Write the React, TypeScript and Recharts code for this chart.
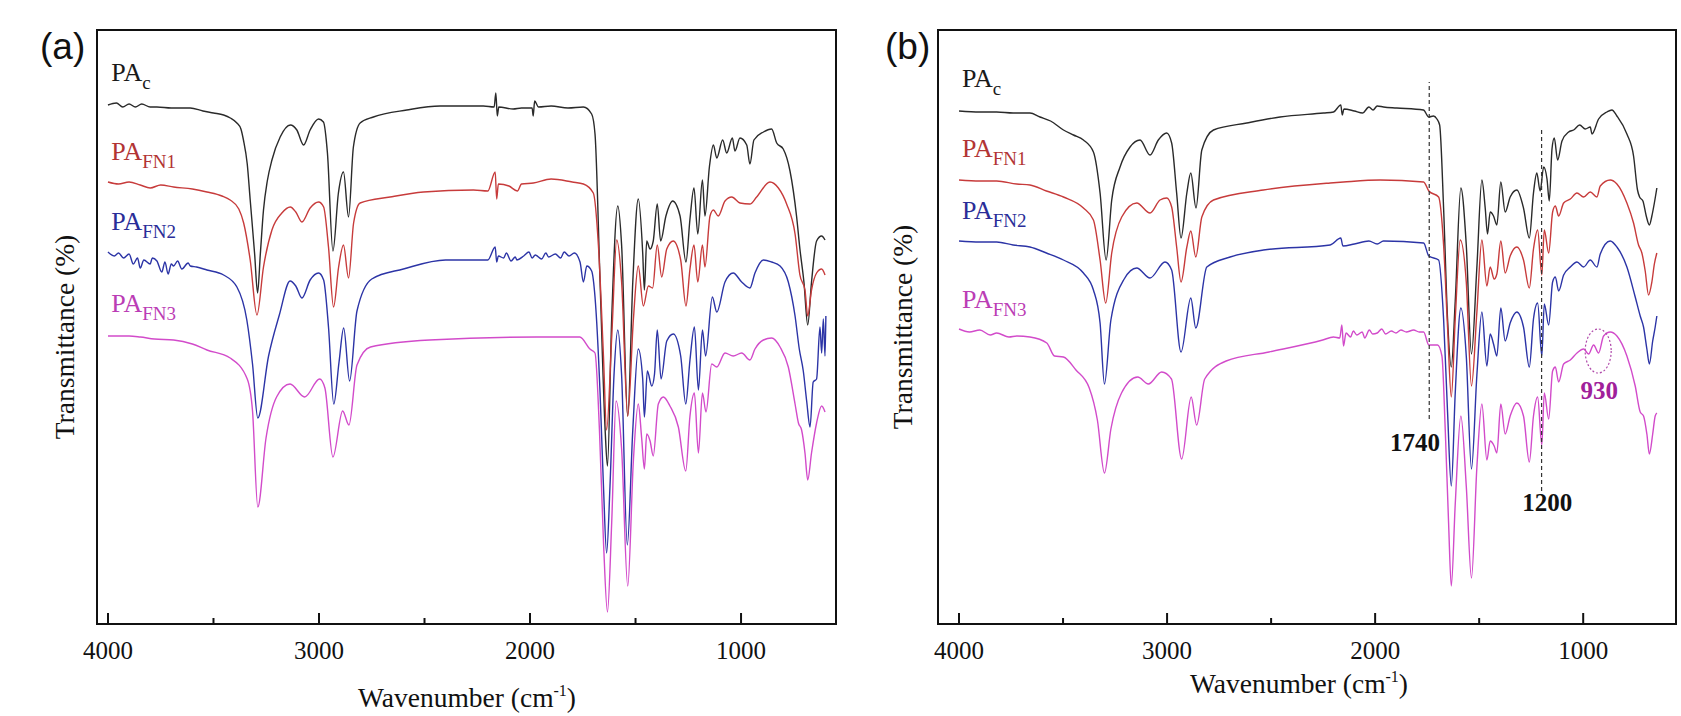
import React from 'react';
import { LineChart, Line, XAxis, YAxis, ReferenceArea, ReferenceLine, ReferenceDot } from 'recharts';

type Pt = [number, number];

// ---------- Panel (a) spectra: [wavenumber cm-1, transmittance (offset a.u.)] ----------
const A_PAC: Pt[] = [[4000,519],[3960,521],[3930,517],[3900,520],[3870,517],[3840,520],[3800,517],[3768,517],[3700,516],[3610,516],[3550,513],[3500,511],[3452,509],[3420,506],[3389,501],[3370,495],[3358,484],[3340,460],[3326,424],[3305,370],[3291,331],[3278,370],[3263,414],[3245,443],[3223,464],[3184,487],[3136,499],[3105,494],[3073,479],[3042,494],[3002,505],[2979,502],[2960,471],[2934,373],[2908,431],[2884,452],[2860,407],[2837,477],[2805,501],[2742,507],[2584,514],[2426,518],[2221,518],[2170,517],[2162,531],[2155,508],[2148,517],[2080,515],[2040,516],[1990,516],[1985,508],[1978,523],[1960,517],[1900,518],[1820,516],[1747,517],[1708,510],[1692,490],[1668,342],[1644,194],[1633,158],[1613,305],[1584,418],[1566,379],[1537,208],[1513,342],[1487,425],[1466,371],[1458,334],[1447,383],[1431,375],[1416,383],[1397,420],[1381,383],[1356,408],[1324,423],[1289,408],[1261,362],[1242,405],[1223,436],[1205,390],[1183,444],[1171,408],[1150,457],[1131,479],[1115,466],[1087,484],[1068,471],[1041,486],[1029,473],[1005,486],[973,479],[958,460],[939,484],[894,492],[855,495],[831,481],[800,475],[768,453],[737,408],[721,375],[702,342],[684,299],[666,342],[642,383],[618,388],[602,384]];

const A_FN1: Pt[] = [[4000,442],[3950,440],[3900,442],[3847,439],[3800,436],[3750,439],[3689,437],[3600,435],[3531,432],[3460,428],[3421,424],[3380,415],[3357,401],[3326,364],[3294,309],[3263,357],[3223,394],[3176,411],[3136,417],[3110,412],[3081,402],[3042,416],[3002,422],[2978,417],[2955,377],[2931,317],[2907,357],[2884,379],[2860,346],[2836,401],[2805,421],[2663,427],[2505,432],[2268,434],[2200,433],[2165,452],[2158,425],[2150,440],[2100,438],[2060,433],[2040,440],[1984,441],[1900,445],[1800,442],[1747,440],[1700,431],[1676,379],[1652,268],[1637,194],[1613,286],[1589,384],[1566,342],[1537,208],[1510,305],[1487,358],[1463,318],[1439,338],[1419,336],[1397,379],[1376,347],[1352,375],[1321,383],[1286,364],[1261,318],[1242,355],[1223,379],[1205,342],[1183,379],[1171,357],[1147,408],[1131,414],[1108,408],[1076,423],[1044,427],[1005,421],[958,420],[926,427],[863,442],[823,436],[784,420],[744,390],[721,349],[697,334],[684,308],[666,334],[642,351],[618,355],[602,349]];

const A_FN2: Pt[] = [[4000,372],[3970,368],[3950,371],[3926,366],[3900,370],[3880,360],[3860,366],[3847,356],[3830,364],[3800,360],[3790,366],[3768,363],[3745,352],[3730,362],[3715,350],[3700,360],[3689,358],[3670,363],[3650,355],[3620,361],[3610,358],[3580,357],[3531,354],[3452,349],[3389,337],[3342,304],[3315,260],[3290,206],[3239,268],[3188,309],[3137,343],[3110,338],[3081,326],[3042,344],[3002,351],[2978,344],[2955,297],[2930,220],[2905,262],[2883,296],[2855,243],[2820,313],[2750,345],[2600,355],[2400,364],[2200,364],[2165,377],[2158,362],[2150,368],[2125,366],[2112,371],[2090,363],[2070,367],[2062,364],[2030,368],[2005,372],[1990,366],[1975,369],[1945,365],[1925,371],[1912,367],[1880,370],[1855,366],[1838,372],[1815,368],[1790,371],[1763,362],[1747,342],[1731,358],[1708,353],[1692,327],[1668,231],[1652,138],[1637,71],[1621,138],[1602,249],[1584,294],[1566,249],[1539,79],[1513,194],[1487,275],[1466,245],[1458,207],[1444,253],[1423,238],[1410,250],[1397,294],[1379,245],[1352,283],[1321,290],[1286,268],[1262,220],[1242,264],[1221,297],[1202,234],[1183,294],[1168,268],[1136,327],[1115,312],[1076,342],[1037,351],[997,342],[958,336],[934,351],[894,364],[855,362],[815,358],[776,342],[744,308],[724,275],[705,253],[689,223],[673,197],[658,242],[642,245],[626,297],[618,271],[610,305],[602,268],[598,308]];

const A_FN3: Pt[] = [[4000,288],[3900,288],[3847,287],[3780,285],[3689,284],[3600,280],[3531,274],[3421,266],[3340,245],[3315,213],[3290,117],[3251,186],[3201,227],[3137,240],[3068,227],[2997,245],[2972,236],[2934,167],[2888,213],[2858,199],[2820,259],[2756,277],[2476,284],[1968,287],[1764,287],[1716,275],[1692,271],[1671,194],[1652,83],[1633,12],[1613,101],[1592,223],[1566,175],[1537,38],[1510,164],[1487,220],[1471,186],[1458,155],[1447,190],[1431,183],[1416,168],[1392,220],[1368,227],[1337,218],[1297,197],[1262,153],[1242,208],[1221,231],[1202,171],[1183,231],[1166,212],[1139,260],[1115,257],[1076,271],[1037,268],[997,271],[958,264],[934,275],[894,284],[855,286],[815,277],[776,257],[744,220],[728,201],[713,194],[697,171],[684,144],[666,171],[642,201],[618,218],[602,212]];

// ---------- Panel (b) spectra ----------
const B_PAC: Pt[] = [[4000,513],[3900,512],[3819,512],[3740,511],[3659,511],[3611,507],[3560,503],[3498,494],[3450,489],[3402,484],[3354,472],[3322,431],[3293,364],[3266,424],[3226,457],[3178,477],[3130,484],[3082,469],[3042,484],[3002,491],[2978,481],[2954,431],[2933,386],[2905,431],[2886,451],[2861,416],[2833,474],[2777,494],[2617,501],[2457,507],[2248,511],[2200,512],[2165,519],[2158,509],[2150,515],[2100,513],[2060,511],[2030,517],[2010,514],[1990,518],[1960,517],[1896,516],[1768,514],[1742,507],[1720,508],[1703,505],[1690,499],[1671,416],[1652,305],[1634,257],[1615,323],[1588,436],[1562,379],[1537,270],[1511,357],[1487,444],[1471,416],[1460,390],[1447,412],[1431,408],[1415,399],[1396,442],[1375,412],[1351,427],[1319,434],[1287,416],[1259,386],[1239,431],[1223,451],[1207,433],[1190,457],[1174,445],[1163,423],[1150,475],[1139,486],[1123,464],[1102,483],[1070,492],[1046,494],[1017,499],[990,495],[966,497],[958,490],[926,505],[886,512],[862,514],[838,508],[790,490],[758,468],[739,434],[729,427],[713,423],[697,408],[682,399],[670,408],[658,421],[646,436]];

const B_FN1: Pt[] = [[4000,444],[3900,443],[3819,443],[3723,440],[3659,439],[3580,433],[3498,427],[3402,416],[3354,404],[3322,364],[3295,321],[3266,371],[3218,407],[3146,421],[3082,411],[3034,424],[3002,426],[2978,417],[2954,377],[2933,342],[2905,377],[2886,393],[2862,367],[2833,407],[2777,424],[2537,434],[2216,441],[2152,442],[1976,444],[1767,442],[1742,433],[1695,427],[1671,379],[1652,297],[1634,227],[1615,305],[1591,384],[1562,342],[1537,238],[1511,312],[1487,384],[1463,338],[1447,357],[1428,345],[1415,350],[1396,383],[1375,351],[1351,368],[1319,377],[1287,364],[1259,336],[1239,375],[1219,394],[1199,349],[1187,394],[1166,371],[1147,412],[1134,418],[1118,408],[1094,421],[1062,425],[1030,431],[998,427],[966,432],[934,427],[918,438],[870,444],[838,440],[790,421],[758,401],[734,379],[718,371],[702,353],[686,329],[670,342],[658,360],[646,371]];

const B_FN2: Pt[] = [[4000,383],[3900,382],[3819,382],[3740,379],[3659,377],[3580,371],[3498,364],[3402,351],[3354,334],[3322,301],[3301,240],[3270,304],[3206,345],[3146,356],[3082,346],[3010,362],[2978,354],[2933,272],[2886,326],[2862,296],[2809,357],[2697,367],[2537,374],[2216,379],[2165,386],[2155,378],[2100,380],[2030,383],[1990,380],[1960,383],[1767,381],[1742,368],[1695,364],[1671,305],[1652,212],[1634,138],[1615,231],[1588,316],[1562,268],[1537,155],[1511,249],[1487,312],[1463,258],[1447,290],[1431,280],[1415,268],[1396,316],[1375,283],[1351,301],[1319,312],[1287,297],[1259,257],[1239,305],[1219,321],[1199,268],[1187,320],[1166,299],[1147,342],[1134,347],[1118,333],[1094,349],[1062,357],[1030,362],[998,357],[966,364],[934,357],[918,370],[870,383],[838,377],[790,357],[750,327],[726,308],[710,297],[694,275],[682,260],[666,283],[654,297],[646,308]];

const B_FN3: Pt[] = [[4000,295],[3950,292],[3900,294],[3850,289],[3819,291],[3760,287],[3722,288],[3659,287],[3578,281],[3541,268],[3498,267],[3438,254],[3374,236],[3335,204],[3301,151],[3270,195],[3219,231],[3141,247],[3090,240],[3026,252],[2979,245],[2930,165],[2884,227],[2858,199],[2819,245],[2716,263],[2510,272],[2252,284],[2200,287],[2170,286],[2160,299],[2152,278],[2140,291],[2118,287],[2105,293],[2088,289],[2062,292],[2050,286],[2028,294],[2012,290],[1990,291],[1968,295],[1950,290],[1922,293],[1900,291],[1876,294],[1850,292],[1815,294],[1788,292],[1767,292],[1742,279],[1700,279],[1679,268],[1663,194],[1647,101],[1634,38],[1615,120],[1588,208],[1562,138],[1537,46],[1511,157],[1487,220],[1463,164],[1447,183],[1428,178],[1415,171],[1396,220],[1375,190],[1351,208],[1319,221],[1287,208],[1259,162],[1239,208],[1219,227],[1199,179],[1187,231],[1166,205],[1147,253],[1134,257],[1118,242],[1094,260],[1062,264],[1030,271],[998,275],[974,270],[950,279],[926,271],[902,288],[870,292],[838,288],[790,268],[750,238],[726,212],[710,208],[694,190],[682,170],[666,190],[654,208],[646,211]];

// ---------- axes ----------
const TICKS = [1000, 1500, 2000, 2500, 3000, 3500, 4000];
const A_DOMAIN: [number, number] = [550, 4052];
const B_DOMAIN: [number, number] = [554, 4101];
const Y_DOMAIN: [number, number] = [0, 594];

// series names & label anchors [wavenumber, value]
const NAMES = ['c', 'FN1', 'FN2', 'FN3'];
const A_LABEL_POS: Pt[] = [[3984, 543], [3984, 464], [3984, 394], [3984, 312]];
const B_LABEL_POS: Pt[] = [[3986, 537], [3986, 467], [3986, 405], [3986, 316]];

const SERIF = "'Liberation Serif', 'DejaVu Serif', serif";
const SANS = "'Liberation Sans', Arial, sans-serif";
const LINE_COLORS = ['#2a2a2a', '#c73b3b', '#2c34a6', '#d24bca'];
const TEXT_COLORS = ['#1a1a1a', '#b23434', '#2a2d98', '#bb3db5'];

const serifStyle: React.CSSProperties = { fontFamily: SERIF };
const sansStyle: React.CSSProperties = { fontFamily: SANS };

const toRows = (pts: Pt[]) => pts.map(([w, t]) => ({ w, t }));

function WaveTick(props: any) {
  const { x, y, payload } = props;
  const v = payload.value;
  const major = v % 1000 === 0;
  return (
    <g>
      <line x1={x} x2={x} y1={y} y2={y - (major ? 11 : 6)} stroke="#111" strokeWidth={2} />
      {major && (
        <text x={x} y={y + 35} textAnchor="middle" style={serifStyle} fontSize={25} fill="#111">
          {v}
        </text>
      )}
    </g>
  );
}

const seriesLabel = (sub: string, color: string) => (p: any) => (
  <text x={p.cx} y={p.cy} style={serifStyle} fontSize={26} fill={color}>
    PA
    <tspan fontSize={19} dy={8}>{sub}</tspan>
  </text>
);

const textMark = (txt: string, color: string) => (p: any) => (
  <text x={p.cx} y={p.cy} textAnchor="middle" style={serifStyle} fontSize={25} fontWeight="bold" fill={color}>
    {txt}
  </text>
);

const ellipseMark = (p: any) => (
  <ellipse cx={p.cx} cy={p.cy} rx={13} ry={22} fill="none" stroke="#b04aaa" strokeWidth={1.2} strokeDasharray="2 2" />
);

interface PanelProps {
  width: number;
  marginLeft: number;
  marginRight: number;
  domain: [number, number];
  series: Pt[][];
  labelPos: Pt[];
  extra?: React.ReactNode;
}

function Panel({ width, marginLeft, marginRight, domain, series, labelPos, extra }: PanelProps) {
  return (
    <LineChart width={width} height={716} margin={{ top: 30, right: marginRight, bottom: 0, left: marginLeft }} style={serifStyle}>
      <XAxis
        dataKey="w"
        type="number"
        domain={domain}
        allowDataOverflow
        reversed
        ticks={TICKS}
        interval={0}
        height={92}
        tickSize={0}
        tickMargin={0}
        tickLine={false}
        axisLine={false}
        tick={<WaveTick />}
      />
      <YAxis type="number" domain={Y_DOMAIN} allowDataOverflow hide width={0} />
      <ReferenceArea x1={domain[0]} x2={domain[1]} y1={Y_DOMAIN[0]} y2={Y_DOMAIN[1]} fill="none" fillOpacity={0} stroke="#111" strokeWidth={2} />
      {series.map((pts, i) => (
        <Line
          key={NAMES[i]}
          data={toRows(pts)}
          dataKey="t"
          type="monotone"
          stroke={LINE_COLORS[i]}
          strokeWidth={1.4}
          dot={false}
          activeDot={false}
          isAnimationActive={false}
        />
      ))}
      {labelPos.map(([w, t], i) => (
        <ReferenceDot key={'lab' + i} x={w} y={t} r={0} shape={seriesLabel(NAMES[i], TEXT_COLORS[i])} />
      ))}
      {extra}
    </LineChart>
  );
}

// annotations for panel (b)
const MARK_LINES: { w: number; from: number; to: number }[] = [
  { w: 1740, from: 205, to: 542 },
  { w: 1200, from: 133, to: 494 },
];
const MARK_TEXTS: { txt: string; w: number; t: number; color: string }[] = [
  { txt: '1740', w: 1808, t: 173, color: '#111' },
  { txt: '1200', w: 1173, t: 113, color: '#111' },
  { txt: '930', w: 923, t: 225, color: '#a0209a' },
];
const CIRCLE_AT: Pt = [928, 273];

export default function App() {
  const bExtra = [
    ...MARK_LINES.map((m) => (
      <ReferenceLine
        key={'ml' + m.w}
        segment={[{ x: m.w, y: m.from }, { x: m.w, y: m.to }]}
        stroke="#333"
        strokeWidth={1.2}
        strokeDasharray="4 3"
      />
    )),
    ...MARK_TEXTS.map((m) => (
      <ReferenceDot key={'mt' + m.txt} x={m.w} y={m.t} r={0} shape={textMark(m.txt, m.color)} />
    )),
    <ReferenceDot key="ell" x={CIRCLE_AT[0]} y={CIRCLE_AT[1]} r={0} shape={ellipseMark} />,
  ];

  return (
    <div style={{ position: 'absolute', left: 0, top: 0, width: 1681, height: 716, background: '#fff', fontFamily: SERIF }}>
      <div style={{ position: 'absolute', left: 0, top: 0 }}>
        <Panel width={840} marginLeft={97} marginRight={4} domain={A_DOMAIN} series={[A_PAC, A_FN1, A_FN2, A_FN3]} labelPos={A_LABEL_POS} />
      </div>
      <div style={{ position: 'absolute', left: 840, top: 0 }}>
        <Panel width={841} marginLeft={98} marginRight={5} domain={B_DOMAIN} series={[B_PAC, B_FN1, B_FN2, B_FN3]} labelPos={B_LABEL_POS} extra={bExtra} />
      </div>
      <svg width={1681} height={716} style={{ position: 'absolute', left: 0, top: 0, pointerEvents: 'none' }}>
        <text x={40} y={59} style={sansStyle} fontSize={37} fill="#111">(a)</text>
        <text x={885} y={59} style={sansStyle} fontSize={37} fill="#111">(b)</text>
        <text x={467} y={707} textAnchor="middle" style={serifStyle} fontSize={27.5} fill="#111">
          Wavenumber (cm<tspan fontSize={16} dy={-11}>-1</tspan><tspan dy={11}>)</tspan>
        </text>
        <text x={1299} y={693} textAnchor="middle" style={serifStyle} fontSize={27.5} fill="#111">
          Wavenumber (cm<tspan fontSize={16} dy={-11}>-1</tspan><tspan dy={11}>)</tspan>
        </text>
        <text transform="translate(64,337) rotate(-90)" textAnchor="middle" dominantBaseline="central" style={serifStyle} fontSize={27.5} fill="#111">
          Transmittance (%)
        </text>
        <text transform="translate(902,327) rotate(-90)" textAnchor="middle" dominantBaseline="central" style={serifStyle} fontSize={27.5} fill="#111">
          Transmittance (%)
        </text>
      </svg>
    </div>
  );
}
